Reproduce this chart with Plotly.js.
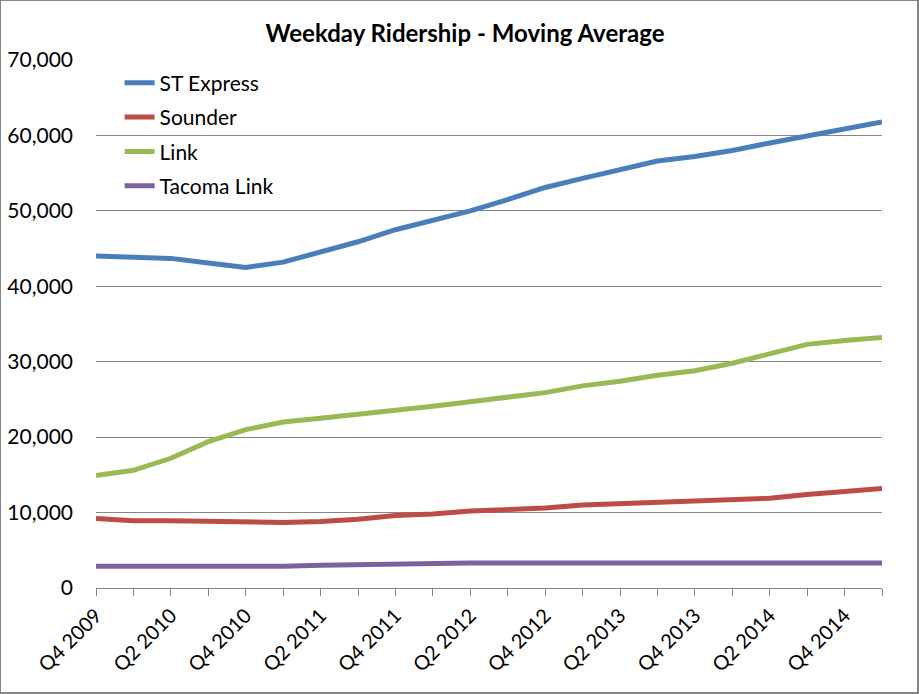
<!DOCTYPE html>
<html>
<head>
<meta charset="utf-8">
<script src="https://cdn.plot.ly/plotly-3.0.1.min.js"></script>
<style>
  html, body { margin: 0; padding: 0; background: #fff; }
  #wrap { position: relative; width: 919px; height: 694px; }
  #chart { width: 919px; height: 694px; }
  #frame {
    position: absolute; left: 0; top: 0; right: 0; bottom: 0;
    border: 1px solid #868686; border-right-width: 2px; border-bottom-width: 2px;
    pointer-events: none;
  }
</style>
</head>
<body>
<div id="wrap">
  <div id="chart"></div>
  <div id="frame"></div>
</div>
<script>
// Quarters, Q4 2009 .. Q1 2015 (only every other one gets a label)
const quarters = [
  'Q4 2009', 'Q1 2010', 'Q2 2010', 'Q3 2010', 'Q4 2010',
  'Q1 2011', 'Q2 2011', 'Q3 2011', 'Q4 2011',
  'Q1 2012', 'Q2 2012', 'Q3 2012', 'Q4 2012',
  'Q1 2013', 'Q2 2013', 'Q3 2013', 'Q4 2013',
  'Q1 2014', 'Q2 2014', 'Q3 2014', 'Q4 2014',
  'Q1 2015',
];

const stExpress = [
  44000, 43800, 43700, 43100, 42500, 43200, 44500, 45900, 47500, 48800, 50000,
  51500, 53100, 54300, 55500, 56600, 57200, 58000, 59000, 59900, 60900, 61800,
];
const sounder = [
  9200, 8900, 8900, 8800, 8700, 8700, 8800, 9100, 9600, 9800, 10200,
  10400, 10600, 11000, 11200, 11400, 11600, 11700, 11900, 12400, 12800, 13200,
];
const link = [
  14900, 15600, 17200, 19400, 21000, 22000, 22500, 23000, 23600, 24100, 24700,
  25300, 25900, 26800, 27400, 28200, 28800, 29800, 31000, 32300, 32800, 33200,
];
const tacomaLink = [
  2900, 2900, 2900, 2800, 2800, 2900, 3000, 3100, 3200, 3300, 3300,
  3300, 3300, 3300, 3300, 3300, 3300, 3200, 3200, 3200, 3200, 3300,
];

const seriesNames = ['ST Express', 'Sounder', 'Link', 'Tacoma Link'];
const seriesColors = ['#4A7EBB', '#BE4B48', '#98B954', '#7D60A0'];
const seriesValues = [stExpress, sounder, link, tacomaLink];

const tickText = quarters.map((q, i) => (i % 2 === 0 ? q : ''));

const FONT = 'Lato, "Open Sans", sans-serif';

const traces = seriesValues.map((vals, i) => ({
  x: quarters,
  y: vals,
  type: 'scatter',
  mode: 'lines',
  name: seriesNames[i],
  legendgroup: 'g' + i,
  line: { color: seriesColors[i], width: 5 },
  hoverinfo: 'x+y+name',
}));

const layout = {
  width: 919,
  height: 694,
  paper_bgcolor: '#fff',
  plot_bgcolor: '#fff',
  font: { family: FONT, color: '#000', size: 20 },
  margin: { t: 60, r: 37, b: 106, l: 96 },
  title: {
    text: '<b>Weekday Ridership - Moving Average</b>',
    font: { family: FONT, size: 24, color: '#000' },
    x: 0.506,
    xanchor: 'center',
    y: 0.952,
    yanchor: 'middle',
  },
  showlegend: true,
  legend: {
    x: 0.03,
    y: 0.995,
    xanchor: 'left',
    yanchor: 'top',
    bgcolor: 'rgba(0,0,0,0)',
    font: { family: FONT, size: 21, color: '#000' },
    traceorder: 'grouped',
    tracegroupgap: 4,
    itemwidth: 30,
  },
  xaxis: {
    type: 'category',
    range: [0, quarters.length - 1],
    tickmode: 'array',
    tickvals: quarters,
    ticktext: tickText,
    tickangle: -45,
    ticks: 'outside',
    ticklen: 7,
    tickcolor: '#868686',
    showline: true,
    linecolor: '#868686',
    linewidth: 1,
    showgrid: false,
    zeroline: false,
    tickfont: { family: FONT, size: 20 },
    fixedrange: true,
  },
  yaxis: {
    range: [0, 70000],
    dtick: 10000,
    tickformat: ',d',
    showgrid: true,
    gridcolor: '#868686',
    gridwidth: 1,
    zeroline: false,
    showline: false,
    ticks: '',
    ticklabelstandoff: 22,
    tickfont: { family: FONT, size: 21 },
    fixedrange: true,
  },
};

Plotly.newPlot('chart', traces, layout, { displayModeBar: false, staticPlot: true });
</script>
</body>
</html>
